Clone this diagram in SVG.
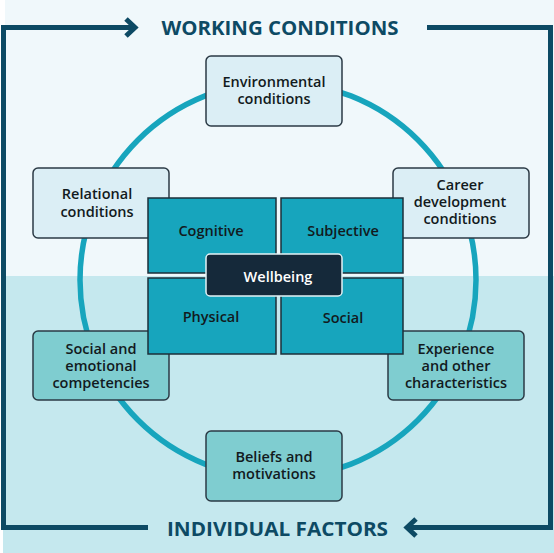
<svg xmlns="http://www.w3.org/2000/svg" width="554" height="553" viewBox="0 0 554 553">
<style>
.lbl{font-family:"Open Sans","Liberation Sans",sans-serif;font-size:14.5px;font-weight:600;fill:#121a20;text-anchor:middle}
.head{font-family:"Open Sans","Liberation Sans",sans-serif;font-size:19.5px;font-weight:700;fill:#0d4a64;text-anchor:middle}
.light{fill:#dbeef5;stroke:#2b3a45;stroke-width:1.5}
.teal{fill:#7fcdd0;stroke:#2b3a45;stroke-width:1.5}
.quad{fill:#17a5bd;stroke:#1d2f3a;stroke-width:1.5}
.frame{fill:none;stroke:#0d4a64;stroke-width:5}
</style>
<rect x="0" y="0" width="554" height="553" fill="#ffffff"/>
<rect x="5" y="0" width="549" height="276" fill="#f0f8fb"/>
<rect x="3" y="276" width="551" height="277" fill="#c5e8ee"/>
<g id="connectors">
<path class="frame" d="M148,527.5 H3.5 V27.5 H135" stroke-linejoin="miter"/>
<polyline class="frame" points="126,19 135,27.5 126,36" stroke-linejoin="miter"/>
<path class="frame" d="M427,27.5 H550.5 V527.5 H407" stroke-linejoin="miter"/>
<polyline class="frame" points="416,519 407,527.5 416,536" stroke-linejoin="miter"/>
<circle cx="278" cy="280" r="198" fill="none" stroke="#17a5bd" stroke-width="5.5"/>
</g>
<g id="working-conditions"><text class="head" x="280" y="35" textLength="237" lengthAdjust="spacingAndGlyphs">WORKING CONDITIONS</text></g>
<g id="individual-factors"><text class="head" x="277.5" y="535.5" textLength="221" lengthAdjust="spacingAndGlyphs">INDIVIDUAL FACTORS</text></g>
<g id="environmental">
<rect class="light" x="206" y="56" width="136" height="70" rx="5"/>
<text class="lbl" x="274" y="87">Environmental</text>
<text class="lbl" x="274" y="104">conditions</text>
</g>
<g id="relational">
<rect class="light" x="33" y="168" width="136" height="70" rx="5"/>
<text class="lbl" x="97" y="199">Relational</text>
<text class="lbl" x="97" y="217">conditions</text>
</g>
<g id="career">
<rect class="light" x="393" y="168" width="136" height="70" rx="5"/>
<text class="lbl" x="460" y="190">Career</text>
<text class="lbl" x="460" y="207">development</text>
<text class="lbl" x="460" y="224">conditions</text>
</g>
<g id="social-emotional">
<rect class="teal" x="33" y="331" width="136" height="69" rx="5"/>
<text class="lbl" x="101" y="354">Social and</text>
<text class="lbl" x="101" y="371">emotional</text>
<text class="lbl" x="101" y="388">competencies</text>
</g>
<g id="experience">
<rect class="teal" x="388" y="331" width="136" height="69" rx="5"/>
<text class="lbl" x="456" y="354">Experience</text>
<text class="lbl" x="456" y="371">and other</text>
<text class="lbl" x="456" y="388">characteristics</text>
</g>
<g id="beliefs">
<rect class="teal" x="206" y="431" width="136" height="70" rx="5"/>
<text class="lbl" x="274" y="462">Beliefs and</text>
<text class="lbl" x="274" y="479">motivations</text>
</g>
<g id="cognitive">
<rect class="quad" x="148" y="198" width="128" height="75"/>
<text class="lbl" x="211" y="236">Cognitive</text>
</g>
<g id="subjective">
<rect class="quad" x="281" y="198" width="122" height="75"/>
<text class="lbl" x="343" y="236">Subjective</text>
</g>
<g id="physical">
<rect class="quad" x="148" y="278" width="128" height="76"/>
<text class="lbl" x="211" y="322">Physical</text>
</g>
<g id="social">
<rect class="quad" x="281" y="278" width="122" height="76"/>
<text class="lbl" x="343" y="323">Social</text>
</g>
<g id="wellbeing">
<rect x="206" y="254" width="136" height="42" rx="4" fill="#15293a" stroke="#e3f2f6" stroke-width="1.5"/>
<text class="lbl" x="278" y="282" style="fill:#ffffff">Wellbeing</text>
</g>
</svg>
